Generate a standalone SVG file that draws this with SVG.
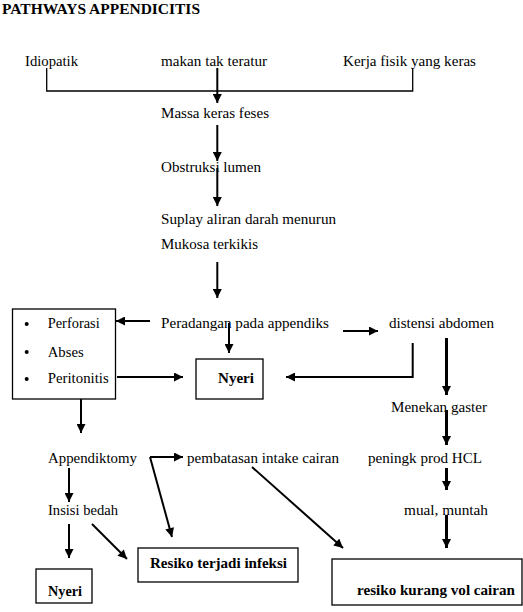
<svg xmlns="http://www.w3.org/2000/svg" width="523" height="612" viewBox="0 0 523 612">
<style>
text{font-family:"Liberation Serif","Times New Roman",serif;font-size:14px;fill:#000}
.b{font-weight:bold}
.t{font-weight:bold;font-size:14px}
.box{fill:#fff;stroke:#000;stroke-width:1.3}
.c{fill:none;stroke:#000;stroke-width:2}
.k{stroke-width:3}
.ln{fill:none;stroke:#000;stroke-width:1.3}
</style>
<defs>
<marker id="ah" viewBox="0 0 10 10" refX="10" refY="5" markerWidth="10" markerHeight="9" markerUnits="userSpaceOnUse" orient="auto">
<path d="M0,0 L10,5 L0,10 z" fill="#000"/>
</marker>
</defs>
<rect width="523" height="612" fill="#fff"/>
<text class="t" x="2" y="14" textLength="198" lengthAdjust="spacingAndGlyphs">PATHWAYS APPENDICITIS</text>

<g id="connectors">
<polyline class="ln" points="46.7,68 46.7,91 412.7,91 412.7,68"/>
<line class="c" x1="217.3" y1="68" x2="217.3" y2="103" marker-end="url(#ah)"/>
<line class="c" x1="217.3" y1="125" x2="217.3" y2="161" marker-end="url(#ah)"/>
<line class="c" x1="217.3" y1="168" x2="217.3" y2="206" marker-end="url(#ah)"/>
<line class="c" x1="217.3" y1="262" x2="217.3" y2="298" marker-end="url(#ah)"/>
<line class="c" x1="150" y1="321" x2="116" y2="321" marker-end="url(#ah)"/>
<line class="c" x1="343" y1="331" x2="378" y2="331" marker-end="url(#ah)"/>
<line class="c" x1="229" y1="323" x2="229" y2="353" marker-end="url(#ah)"/>
<line class="c" x1="117" y1="377" x2="183" y2="377" marker-end="url(#ah)"/>
<polyline class="c" points="412.7,343 412.7,377 286,377" marker-end="url(#ah)"/>
<line class="c k" x1="446.5" y1="338" x2="446.5" y2="395" marker-end="url(#ah)"/>
<line class="c" x1="81" y1="399" x2="81" y2="433" marker-end="url(#ah)"/>
<line class="c k" x1="446.5" y1="410" x2="446.5" y2="445" marker-end="url(#ah)"/>
<line class="c" x1="150" y1="457" x2="183" y2="457" marker-end="url(#ah)"/>
<line class="c" x1="150" y1="457" x2="172" y2="537" marker-end="url(#ah)"/>
<line class="c k" x1="446.5" y1="468" x2="446.5" y2="490" marker-end="url(#ah)"/>
<line class="c k" x1="446.5" y1="515" x2="446.5" y2="548" marker-end="url(#ah)"/>
<line class="c" x1="69" y1="468" x2="69" y2="502" marker-end="url(#ah)"/>
<line class="c" x1="69" y1="524" x2="69" y2="558" marker-end="url(#ah)"/>
<line class="c" x1="92" y1="524" x2="127" y2="559" marker-end="url(#ah)"/>
<line class="c" x1="252" y1="467" x2="343" y2="548" marker-end="url(#ah)"/>
</g>

<g id="idiopatik"><text x="25" y="66" textLength="53" lengthAdjust="spacingAndGlyphs">Idiopatik</text></g>
<g id="makan"><text x="161" y="66" textLength="106" lengthAdjust="spacingAndGlyphs">makan tak teratur</text></g>
<g id="kerja"><text x="343" y="66" textLength="133" lengthAdjust="spacingAndGlyphs">Kerja fisik yang keras</text></g>
<g id="massa"><text x="161" y="118" textLength="108" lengthAdjust="spacingAndGlyphs">Massa keras feses</text></g>
<g id="obstruksi"><text x="161" y="172" textLength="100" lengthAdjust="spacingAndGlyphs">Obstruksi lumen</text></g>
<g id="suplay"><text x="161" y="224" textLength="175" lengthAdjust="spacingAndGlyphs">Suplay aliran darah menurun</text></g>
<g id="mukosa"><text x="161" y="249" textLength="97" lengthAdjust="spacingAndGlyphs">Mukosa terkikis</text></g>

<g id="komplikasi">
<rect class="box" x="12.5" y="309" width="103" height="90"/>
<circle cx="26.7" cy="324" r="2" fill="#000"/>
<circle cx="26.7" cy="352" r="2" fill="#000"/>
<circle cx="26.7" cy="379" r="2" fill="#000"/>
<text x="47.7" y="328" textLength="52" lengthAdjust="spacingAndGlyphs">Perforasi</text>
<text x="47.7" y="357" textLength="36" lengthAdjust="spacingAndGlyphs">Abses</text>
<text x="47.7" y="383" textLength="61" lengthAdjust="spacingAndGlyphs">Peritonitis</text>
</g>
<g id="peradangan"><text x="161" y="328" textLength="168" lengthAdjust="spacingAndGlyphs">Peradangan pada appendiks</text></g>
<g id="distensi"><text x="389" y="328" textLength="105" lengthAdjust="spacingAndGlyphs">distensi abdomen</text></g>
<g id="nyeri1">
<rect class="box" x="196" y="359" width="67" height="40"/>
<text class="b" x="218" y="383" textLength="36" lengthAdjust="spacingAndGlyphs">Nyeri</text>
</g>
<g id="menekan"><text x="391" y="412" textLength="96" lengthAdjust="spacingAndGlyphs">Menekan gaster</text></g>
<g id="appendiktomy"><text x="48" y="463" textLength="89" lengthAdjust="spacingAndGlyphs">Appendiktomy</text></g>
<g id="pembatasan"><text x="187" y="463" textLength="152" lengthAdjust="spacingAndGlyphs">pembatasan intake cairan</text></g>
<g id="peningk"><text x="368" y="463" textLength="114" lengthAdjust="spacingAndGlyphs">peningk prod HCL</text></g>
<g id="insisi"><text x="48" y="515" textLength="70" lengthAdjust="spacingAndGlyphs">Insisi bedah</text></g>
<g id="mual"><text x="404" y="515" textLength="84" lengthAdjust="spacingAndGlyphs">mual, muntah</text></g>
<g id="nyeri2">
<rect class="box" x="36" y="569" width="56" height="34"/>
<text class="b" x="48" y="596" textLength="34" lengthAdjust="spacingAndGlyphs">Nyeri</text>
</g>
<g id="infeksi">
<rect class="box" x="138" y="548" width="160" height="34"/>
<text class="b" x="150" y="568" textLength="137" lengthAdjust="spacingAndGlyphs">Resiko terjadi infeksi</text>
</g>
<g id="cairan">
<rect class="box" x="332" y="559" width="190" height="46"/>
<text class="b" x="357" y="595" textLength="158" lengthAdjust="spacingAndGlyphs">resiko kurang vol cairan</text>
</g>
</svg>
